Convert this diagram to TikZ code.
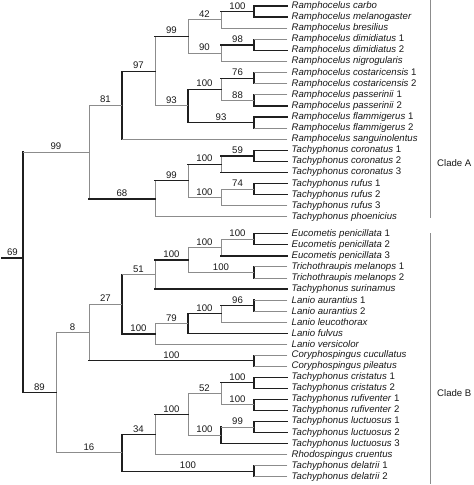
\documentclass[tikz,border=0pt]{standalone}
\usepackage{fontspec}
\setmainfont{Liberation Sans}
\newcommand\hbranch[4]{\draw[#1] (#2 |- #3) -- node[lab]{#4} (#3);}
\newcommand\tbranch[3]{\draw[#1] (#2 |- #3) -- (#3);}
\newcommand\vbranch[4]{\draw[#1] (#2 |- #3) -- (#2 |- #4);}
\begin{document}
\begin{tikzpicture}[x=1pt,y=-1pt,
  dk/.style={draw=black!88,line width=1.3pt,line cap=rect},
  gy/.style={draw=black!45,line width=0.9pt,line cap=rect},
  lab/.style={anchor=south,inner sep=1pt,yshift=0.8pt,font=\fontsize{9.6}{11}\selectfont,text=black!90},
  leaf/.style={anchor=west,inner xsep=4.5pt,inner ysep=0pt,font=\fontsize{9.6}{11}\selectfont,text=black!90},
  cladebar/.style={draw=black!45,line width=0.9pt},
  cladetxt/.style={anchor=west,inner sep=0pt,font=\fontsize{9.6}{11}\selectfont,text=black!90}]
\useasboundingbox (0,0) rectangle (474,485);
\fill[white] (0,0) rectangle (474,485);
% ---------- tips, clade A ----------
\coordinate (a0) at (287,6.0);    \coordinate (a1) at (287,17.1);
\coordinate (a2) at (287,28.2);   \coordinate (a3) at (287,39.3);
\coordinate (a4) at (287,50.4);   \coordinate (a5) at (287,61.5);
\coordinate (a6) at (287,72.6);   \coordinate (a7) at (287,83.7);
\coordinate (a8) at (287,94.8);   \coordinate (a9) at (287,105.9);
\coordinate (a10) at (287,117.0); \coordinate (a11) at (287,128.1);
\coordinate (a12) at (287,139.2); \coordinate (a13) at (287,150.3);
\coordinate (a14) at (287,161.4); \coordinate (a15) at (287,172.5);
\coordinate (a16) at (287,183.6); \coordinate (a17) at (287,194.7);
\coordinate (a18) at (287,205.8); \coordinate (a19) at (287,216.9);
% ---------- tips, clade B ----------
\coordinate (b0) at (287,233.8);   \coordinate (b1) at (287,244.84);
\coordinate (b2) at (287,255.88);  \coordinate (b3) at (287,266.92);
\coordinate (b4) at (287,277.96);  \coordinate (b5) at (287,289.0);
\coordinate (b6) at (287,300.04);  \coordinate (b7) at (287,311.08);
\coordinate (b8) at (287,322.12);  \coordinate (b9) at (287,333.16);
\coordinate (b10) at (287,344.2);  \coordinate (b11) at (287,355.24);
\coordinate (b12) at (287,366.28); \coordinate (b13) at (287,377.32);
\coordinate (b14) at (287,388.36); \coordinate (b15) at (287,399.4);
\coordinate (b16) at (287,410.44); \coordinate (b17) at (287,421.48);
\coordinate (b18) at (287,432.52); \coordinate (b19) at (287,443.56);
\coordinate (b20) at (287,454.6);  \coordinate (b21) at (287,465.64);
\coordinate (b22) at (287,476.68);
% ---------- leaf labels ----------
\node[leaf] (la0) at (a0) {\textit{Ramphocelus carbo}};
\node[leaf] (la1) at (a1) {\textit{Ramphocelus melanogaster}};
\node[leaf] (la2) at (a2) {\textit{Ramphocelus bresilius}};
\node[leaf] (la3) at (a3) {\textit{Ramphocelus dimidiatus} 1};
\node[leaf] (la4) at (a4) {\textit{Ramphocelus dimidiatus} 2};
\node[leaf] (la5) at (a5) {\textit{Ramphocelus nigrogularis}};
\node[leaf] (la6) at (a6) {\textit{Ramphocelus costaricensis} 1};
\node[leaf] (la7) at (a7) {\textit{Ramphocelus costaricensis} 2};
\node[leaf] (la8) at (a8) {\textit{Ramphocelus passerinii} 1};
\node[leaf] (la9) at (a9) {\textit{Ramphocelus passerinii} 2};
\node[leaf] (la10) at (a10) {\textit{Ramphocelus flammigerus} 1};
\node[leaf] (la11) at (a11) {\textit{Ramphocelus flammigerus} 2};
\node[leaf] (la12) at (a12) {\textit{Ramphocelus sanguinolentus}};
\node[leaf] (la13) at (a13) {\textit{Tachyphonus coronatus} 1};
\node[leaf] (la14) at (a14) {\textit{Tachyphonus coronatus} 2};
\node[leaf] (la15) at (a15) {\textit{Tachyphonus coronatus} 3};
\node[leaf] (la16) at (a16) {\textit{Tachyphonus rufus} 1};
\node[leaf] (la17) at (a17) {\textit{Tachyphonus rufus} 2};
\node[leaf] (la18) at (a18) {\textit{Tachyphonus rufus} 3};
\node[leaf] (la19) at (a19) {\textit{Tachyphonus phoenicius}};
\node[leaf] (lb0) at (b0) {\textit{Eucometis penicillata} 1};
\node[leaf] (lb1) at (b1) {\textit{Eucometis penicillata} 2};
\node[leaf] (lb2) at (b2) {\textit{Eucometis penicillata} 3};
\node[leaf] (lb3) at (b3) {\textit{Trichothraupis melanops} 1};
\node[leaf] (lb4) at (b4) {\textit{Trichothraupis melanops} 2};
\node[leaf] (lb5) at (b5) {\textit{Tachyphonus surinamus}};
\node[leaf] (lb6) at (b6) {\textit{Lanio aurantius} 1};
\node[leaf] (lb7) at (b7) {\textit{Lanio aurantius} 2};
\node[leaf] (lb8) at (b8) {\textit{Lanio leucothorax}};
\node[leaf] (lb9) at (b9) {\textit{Lanio fulvus}};
\node[leaf] (lb10) at (b10) {\textit{Lanio versicolor}};
\node[leaf] (lb11) at (b11) {\textit{Coryphospingus cucullatus}};
\node[leaf] (lb12) at (b12) {\textit{Coryphospingus pileatus}};
\node[leaf] (lb13) at (b13) {\textit{Tachyphonus cristatus} 1};
\node[leaf] (lb14) at (b14) {\textit{Tachyphonus cristatus} 2};
\node[leaf] (lb15) at (b15) {\textit{Tachyphonus rufiventer} 1};
\node[leaf] (lb16) at (b16) {\textit{Tachyphonus rufiventer} 2};
\node[leaf] (lb17) at (b17) {\textit{Tachyphonus luctuosus} 1};
\node[leaf] (lb18) at (b18) {\textit{Tachyphonus luctuosus} 2};
\node[leaf] (lb19) at (b19) {\textit{Tachyphonus luctuosus} 3};
\node[leaf] (lb20) at (b20) {\textit{Rhodospingus cruentus}};
\node[leaf] (lb21) at (b21) {\textit{Tachyphonus delatrii} 1};
\node[leaf] (lb22) at (b22) {\textit{Tachyphonus delatrii} 2};
% ---------- internal nodes ----------
\coordinate (rs) at (2,258);
\coordinate (root) at (23,258);
\coordinate (nA99) at (89,152.03);
\coordinate (nA81) at (122,105.2);
\coordinate (nA97) at (155,71.2);
\coordinate (nA99b) at (188,36.525);
\coordinate (nA42) at (221,19.875);
\coordinate (nA100a) at (254,11.55);
\coordinate (nA90) at (221,53.175);
\coordinate (nA98) at (254,44.85);
\coordinate (nA93a) at (188,105.9);
\coordinate (nA100b) at (221,89.25);
\coordinate (nA76) at (254,78.15);
\coordinate (nA88) at (254,100.35);
\coordinate (nA93b) at (254,122.55);
\coordinate (nA68) at (155,198.86);
\coordinate (nA99c) at (188,180.825);
\coordinate (nA100c) at (221,164.175);
\coordinate (nA59) at (254,155.85);
\coordinate (nA100d) at (221,197.475);
\coordinate (nA74) at (254,189.15);
\coordinate (nB89) at (56,392.67);
\coordinate (nB8) at (89,332.47);
\coordinate (nB27) at (122,304.18);
\coordinate (nB51) at (155,274.51);
\coordinate (nB100h) at (188,260.02);
\coordinate (nB100f) at (221,247.6);
\coordinate (nB100e) at (254,239.32);
\coordinate (nB100g) at (254,272.44);
\coordinate (nB100j) at (155,333.85);
\coordinate (nB79) at (188,323.5);
\coordinate (nB100i) at (221,313.84);
\coordinate (nB96) at (254,305.56);
\coordinate (nB100k) at (254,360.76);
\coordinate (nB16) at (122,452.88);
\coordinate (nB34) at (155,434.59);
\coordinate (nB100o) at (188,414.58);
\coordinate (nB52) at (221,393.88);
\coordinate (nB100l) at (254,382.84);
\coordinate (nB100m) at (254,404.92);
\coordinate (nB100n) at (221,435.28);
\coordinate (nB99d) at (254,427.0);
\coordinate (nB100p) at (254,471.16);
% ---------- verticals ----------
\vbranch{dk}{root}{nA99}{nB89}
\vbranch{gy}{nA99}{nA81}{nA68}
\vbranch{dk}{nA81}{nA97}{a12}
\vbranch{gy}{nA97}{nA99b}{nA93a}
\vbranch{gy}{nA99b}{nA42}{nA90}
\vbranch{gy}{nA42}{nA100a}{a2}
\vbranch{dk}{nA100a}{a0}{a1}
\vbranch{gy}{nA90}{nA98}{a5}
\vbranch{dk}{nA98}{a3}{a4}
\vbranch{dk}{nA93a}{nA100b}{nA93b}
\vbranch{gy}{nA100b}{nA76}{nA88}
\vbranch{dk}{nA76}{a6}{a7}
\vbranch{dk}{nA88}{a8}{a9}
\vbranch{dk}{nA93b}{a10}{a11}
\vbranch{gy}{nA68}{nA99c}{a19}
\vbranch{gy}{nA99c}{nA100c}{nA100d}
\vbranch{gy}{nA100c}{nA59}{a15}
\vbranch{dk}{nA59}{a13}{a14}
\vbranch{gy}{nA100d}{nA74}{a18}
\vbranch{dk}{nA74}{a16}{a17}
\vbranch{gy}{nB89}{nB8}{nB16}
\vbranch{gy}{nB8}{nB27}{nB100k}
\vbranch{dk}{nB27}{nB51}{nB100j}
\vbranch{gy}{nB51}{nB100h}{b5}
\vbranch{gy}{nB100h}{nB100f}{nB100g}
\vbranch{gy}{nB100f}{nB100e}{b2}
\vbranch{dk}{nB100e}{b0}{b1}
\vbranch{dk}{nB100g}{b3}{b4}
\vbranch{gy}{nB100j}{nB79}{b10}
\vbranch{dk}{nB79}{nB100i}{b9}
\vbranch{gy}{nB100i}{nB96}{b8}
\vbranch{dk}{nB96}{b6}{b7}
\vbranch{dk}{nB100k}{b11}{b12}
\vbranch{dk}{nB16}{nB34}{nB100p}
\vbranch{gy}{nB34}{nB100o}{b20}
\vbranch{gy}{nB100o}{nB52}{nB100n}
\vbranch{gy}{nB52}{nB100l}{nB100m}
\vbranch{dk}{nB100l}{b13}{b14}
\vbranch{dk}{nB100m}{b15}{b16}
\vbranch{dk}{nB100n}{nB99d}{b19}
\vbranch{dk}{nB99d}{b17}{b18}
\vbranch{dk}{nB100p}{b21}{b22}
% ---------- horizontal branches ----------
\draw[dk] (rs) -- node[lab]{69} (root);
\hbranch{gy}{root}{nA99}{99}
\hbranch{dk}{root}{nB89}{89}
\hbranch{gy}{nA99}{nA81}{81}
\hbranch{dk}{nA99}{nA68}{68}
\hbranch{dk}{nA81}{nA97}{97}
\tbranch{gy}{nA81}{a12}
\hbranch{dk}{nA97}{nA99b}{99}
\hbranch{gy}{nA97}{nA93a}{93}
\hbranch{gy}{nA99b}{nA42}{42}
\hbranch{gy}{nA99b}{nA90}{90}
\hbranch{dk}{nA42}{nA100a}{100}
\tbranch{gy}{nA42}{a2}
\tbranch{dk}{nA100a}{a0}
\tbranch{dk}{nA100a}{a1}
\hbranch{dk}{nA90}{nA98}{98}
\tbranch{gy}{nA90}{a5}
\tbranch{gy}{nA98}{a3}
\tbranch{dk}{nA98}{a4}
\hbranch{dk}{nA93a}{nA100b}{100}
\hbranch{dk}{nA93a}{nA93b}{93}
\hbranch{dk}{nA100b}{nA76}{76}
\hbranch{gy}{nA100b}{nA88}{88}
\tbranch{gy}{nA76}{a6}
\tbranch{gy}{nA76}{a7}
\tbranch{gy}{nA88}{a8}
\tbranch{dk}{nA88}{a9}
\tbranch{dk}{nA93b}{a10}
\tbranch{gy}{nA93b}{a11}
\hbranch{dk}{nA68}{nA99c}{99}
\tbranch{gy}{nA68}{a19}
\hbranch{dk}{nA99c}{nA100c}{100}
\hbranch{gy}{nA99c}{nA100d}{100}
\hbranch{dk}{nA100c}{nA59}{59}
\tbranch{dk}{nA100c}{a15}
\tbranch{dk}{nA59}{a13}
\tbranch{dk}{nA59}{a14}
\hbranch{gy}{nA100d}{nA74}{74}
\tbranch{gy}{nA100d}{a18}
\tbranch{dk}{nA74}{a16}
\tbranch{dk}{nA74}{a17}
% clade B
\hbranch{gy}{nB89}{nB8}{8}
\hbranch{gy}{nB89}{nB16}{16}
\hbranch{gy}{nB8}{nB27}{27}
\hbranch{dk}{nB8}{nB100k}{100}
\hbranch{gy}{nB27}{nB51}{51}
\hbranch{dk}{nB27}{nB100j}{100}
\hbranch{dk}{nB51}{nB100h}{100}
\tbranch{dk}{nB51}{b5}
\hbranch{gy}{nB100h}{nB100f}{100}
\hbranch{gy}{nB100h}{nB100g}{100}
\hbranch{gy}{nB100f}{nB100e}{100}
\tbranch{dk}{nB100f}{b2}
\tbranch{dk}{nB100e}{b0}
\tbranch{dk}{nB100e}{b1}
\tbranch{gy}{nB100g}{b3}
\tbranch{gy}{nB100g}{b4}
\hbranch{gy}{nB100j}{nB79}{79}
\tbranch{gy}{nB100j}{b10}
\hbranch{dk}{nB79}{nB100i}{100}
\tbranch{dk}{nB79}{b9}
\hbranch{dk}{nB100i}{nB96}{96}
\tbranch{gy}{nB100i}{b8}
\tbranch{gy}{nB96}{b6}
\tbranch{gy}{nB96}{b7}
\tbranch{gy}{nB100k}{b11}
\tbranch{gy}{nB100k}{b12}
\hbranch{dk}{nB16}{nB34}{34}
\hbranch{dk}{nB16}{nB100p}{100}
\hbranch{dk}{nB34}{nB100o}{100}
\tbranch{gy}{nB34}{b20}
\hbranch{gy}{nB100o}{nB52}{52}
\hbranch{gy}{nB100o}{nB100n}{100}
\hbranch{dk}{nB52}{nB100l}{100}
\hbranch{gy}{nB52}{nB100m}{100}
\tbranch{dk}{nB100l}{b13}
\tbranch{dk}{nB100l}{b14}
\tbranch{dk}{nB100m}{b15}
\tbranch{dk}{nB100m}{b16}
\hbranch{gy}{nB100n}{nB99d}{99}
\tbranch{dk}{nB100n}{b19}
\tbranch{dk}{nB99d}{b17}
\tbranch{dk}{nB99d}{b18}
\tbranch{gy}{nB100p}{b21}
\tbranch{gy}{nB100p}{b22}
% ---------- clade bars ----------
\coordinate (cAt) at (430,0);   \coordinate (cAb) at (430,218);
\coordinate (cBt) at (430,233); \coordinate (cBb) at (430,484);
\draw[cladebar] (cAt) -- (cAb);
\draw[cladebar] (cBt) -- (cBb);
\node[cladetxt] (cA) at (437,163) {Clade A};
\node[cladetxt] (cB) at (437,393) {Clade B};
\end{tikzpicture}
\end{document}
